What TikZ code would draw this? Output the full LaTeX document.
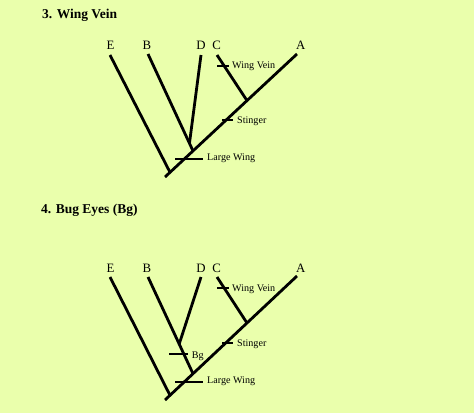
\documentclass[tikz,border=0pt]{standalone}
\usepackage{fontspec}
\setmainfont{Liberation Serif}
\definecolor{bgc}{RGB}{234,255,172}
\tikzset{
  branch/.style={line width=2.8pt, line cap=butt},
  tick/.style={line width=2.8pt},
  leaf/.style={font=\fontsize{12.8}{14}\selectfont, anchor=base, inner sep=0pt},
  trait/.style={font=\fontsize{10.1}{12}\selectfont, anchor=base west, inner sep=0pt},
  title/.style={font=\fontsize{13.5}{15}\selectfont\bfseries, anchor=base west, inner sep=0pt}
}
\begin{document}
\begin{tikzpicture}[x=1pt,y=-1pt]
\fill[bgc] (0,0) rectangle (474,413);
\useasboundingbox (0,0) rectangle (474,413);

% ---------- Tree 3 ----------
\node[title] (t1) at (42,18) {3. Wing Vein};
\node[leaf] (E1) at (110.5,49.3) {E};
\node[leaf] (B1) at (147,49.3) {B};
\node[leaf] (D1) at (201,49.3) {D};
\node[leaf] (C1) at (216.7,49.3) {C};
\node[leaf] (A1) at (300.7,49.3) {A};
\coordinate (r1) at (165,177);
\coordinate (a1) at (297,54);
\coordinate (e1) at (110,55);
\coordinate (b1) at (148,54);
\coordinate (d1) at (201,55);
\coordinate (c1) at (217,55);
\coordinate (je1) at (170,172.3);
\coordinate (jb1) at (193,150.9);
\coordinate (jd1) at (189.5,143);
\coordinate (jc1) at (247,100.6);
\draw[branch] (r1) -- (a1);
\draw[branch] (e1) -- (je1);
\draw[branch] (b1) -- (jb1);
\draw[branch] (d1) -- (jd1);
\draw[branch] (c1) -- (jc1);
\coordinate (wv1a) at (217,66); \coordinate (wv1b) at (229,66);
\coordinate (st1a) at (222,120); \coordinate (st1b) at (233,120);
\coordinate (lw1a) at (175,159); \coordinate (lw1b) at (203,159);
\draw[tick] (wv1a) -- (wv1b);
\draw[tick] (st1a) -- (st1b);
\draw[tick] (lw1a) -- (lw1b);
\node[trait] (wvl1) at (232,68) {Wing Vein};
\node[trait] (stl1) at (237,123.5) {Stinger};
\node[trait] (lwl1) at (207,160) {Large Wing};

% ---------- Tree 4 ----------
\node[title] (t2) at (41,213.5) {4. Bug Eyes (Bg)};
\node[leaf] (E2) at (110.5,272) {E};
\node[leaf] (B2) at (147,272) {B};
\node[leaf] (D2) at (201,272) {D};
\node[leaf] (C2) at (216.7,272) {C};
\node[leaf] (A2) at (300.7,272) {A};
\coordinate (r2) at (165,400);
\coordinate (a2) at (297,276);
\coordinate (e2) at (110,277);
\coordinate (b2) at (148,277);
\coordinate (d2) at (201,277);
\coordinate (c2) at (217,277);
\coordinate (je2) at (170,395.3);
\coordinate (jb2) at (193,373.7);
\coordinate (jd2) at (179.2,344);
\coordinate (jc2) at (247,323);
\draw[branch] (r2) -- (a2);
\draw[branch] (e2) -- (je2);
\draw[branch] (b2) -- (jb2);
\draw[branch] (d2) -- (jd2);
\draw[branch] (c2) -- (jc2);
\coordinate (wv2a) at (217,288); \coordinate (wv2b) at (229,288);
\coordinate (st2a) at (222,343); \coordinate (st2b) at (233,343);
\coordinate (bg2a) at (169,354); \coordinate (bg2b) at (188,354);
\coordinate (lw2a) at (175,382); \coordinate (lw2b) at (203,382);
\draw[tick] (wv2a) -- (wv2b);
\draw[tick] (st2a) -- (st2b);
\draw[tick] (bg2a) -- (bg2b);
\draw[tick] (lw2a) -- (lw2b);
\node[trait] (wvl2) at (232,291) {Wing Vein};
\node[trait] (stl2) at (237,346.7) {Stinger};
\node[trait] (bgl2) at (191.7,358) {Bg};
\node[trait] (lwl2) at (207,383.3) {Large Wing};
\end{tikzpicture}
\end{document}
